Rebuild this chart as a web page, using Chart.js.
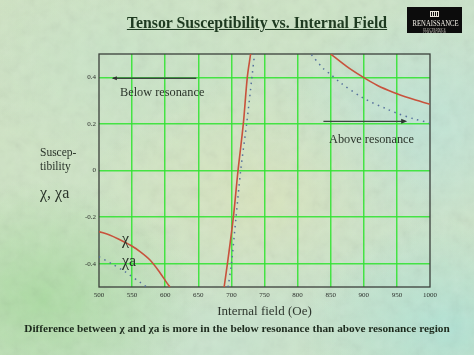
<!DOCTYPE html>
<html>
<head>
<meta charset="utf-8">
<script src="https://cdn.jsdelivr.net/npm/chart.js@4.4.1/dist/chart.umd.min.js"></script>
<style>
  html, body { margin: 0; padding: 0; width: 474px; height: 355px; overflow: hidden; }
  body {
    position: relative;
    font-family: "Liberation Serif", "DejaVu Serif", serif;
    background:
      radial-gradient(ellipse 160px 120px at 40px 300px, rgba(160,215,150,0.75), rgba(160,215,150,0) 100%),
      radial-gradient(ellipse 150px 110px at 450px 330px, rgba(170,225,215,0.8), rgba(170,225,215,0) 100%),
      radial-gradient(ellipse 170px 120px at 260px 200px, rgba(222,228,185,0.7), rgba(222,228,185,0) 100%),
      radial-gradient(ellipse 160px 100px at 120px 60px, rgba(200,228,200,0.8), rgba(200,228,200,0) 100%),
      radial-gradient(ellipse 140px 110px at 420px 120px, rgba(190,228,215,0.8), rgba(190,228,215,0) 100%),
      linear-gradient(135deg, #cfe2c2 0%, #cde4c6 40%, #c8e3cd 70%, #cfe4c4 100%);
  }
  #noise { position: absolute; left: 0; top: 0; width: 474px; height: 355px; opacity: 0.15; pointer-events: none; }
  #wrap { position: absolute; left: 0; top: 0; width: 474px; height: 355px; }
  .txt { position: absolute; color: #2b352b; white-space: nowrap; line-height: 1; }
  #title { left: 0; width: 514px; top: 15px; text-align: center; font-weight: bold; font-size: 15.8px; text-decoration: underline; color: #1e3a20; }
  #logo { position: absolute; left: 407px; top: 7px; width: 55px; height: 26px; background: #0c0c0c; overflow: hidden; }
  #logo .ren { position: absolute; left: 0; width: 55px; top: 11.5px; text-align: center; color: #f2efe6; font-size: 8.4px; transform: scaleX(0.8); transform-origin: 50% 0; font-family: "Liberation Serif", serif; }
  #logo .corp { position: absolute; left: -10px; width: 75px; top: 20.5px; text-align: center; color: #d8d4ca; font-size: 5px; transform: scale(0.6, 0.7); transform-origin: 50% 0; letter-spacing: 0.3px; }
  #logo .icon { position: absolute; left: 23px; top: 4px; width: 9px; height: 6px; border-top: 1.5px solid #e8e4da; border-bottom: 1px solid #e8e4da; box-sizing: border-box;
    background: repeating-linear-gradient(90deg, #e8e4da 0 1px, transparent 1px 2px); }
  #xtitle { left: 99px; width: 331px; top: 304px; text-align: center; font-size: 13px; color: #2e372e; }
  #caption { left: 0; width: 474px; top: 323px; text-align: center; font-weight: bold; font-size: 11.3px; color: #1d2a1d; }
  #ylab1 { left: 40px; top: 147px; font-size: 11.5px; }
  #ylab2 { left: 40px; top: 161px; font-size: 11.5px; }
  #ylab3 { left: 40px; top: 185px; font-size: 16px; }
  #below { left: 120px; top: 86px; font-size: 12.3px; }
  #above { left: 329px; top: 133px; font-size: 12.3px; }
  #chiL { left: 122px; top: 231px; font-size: 16px; }
  #chiaL { left: 122px; top: 253px; font-size: 16px; }
</style>
</head>
<body>
<svg id="noise" xmlns="http://www.w3.org/2000/svg" width="474" height="355">
  <filter id="f"><feTurbulence type="fractalNoise" baseFrequency="0.08" numOctaves="3" seed="4"/><feColorMatrix type="saturate" values="0"/></filter>
  <rect width="474" height="355" filter="url(#f)"/>
</svg>
<div id="wrap"><canvas id="c" width="474" height="355"></canvas></div>
<div class="txt" id="title">Tensor Susceptibility vs. Internal Field</div>
<div id="logo"><div class="icon"></div><div class="ren">RENAISSANCE</div><div class="corp">ELECTRONICS CORPORATION</div></div>
<div class="txt" id="xtitle">Internal field (Oe)</div>
<div class="txt" id="caption">Difference between χ and χa is more in the below resonance than above resonance region</div>
<div class="txt" id="ylab1">Suscep-</div>
<div class="txt" id="ylab2">tibility</div>
<div class="txt" id="ylab3">χ, χa</div>
<div class="txt" id="below">Below resonance</div>
<div class="txt" id="above">Above resonance</div>
<div class="txt" id="chiL">χ</div>
<div class="txt" id="chiaL">χa</div>
<script>
// ---- data ----
const xTicks = [500, 550, 600, 650, 700, 750, 800, 850, 900, 950, 1000];
const yTicks = [-0.4, -0.2, 0, 0.2, 0.4];
const yTickLabels = ["-0.4", "-0.2", "0", "0.2", "0.4"];

// chi (red, solid)
const chiBelowX = [500, 515, 530, 547, 562, 577, 590, 602, 607];
const chiBelowY = [-0.262, -0.276, -0.295, -0.32, -0.348, -0.384, -0.43, -0.48, -0.5];
const chiResX = [689, 694, 703, 710, 718, 724, 729];
const chiResY = [-0.5, -0.4, -0.2, 0, 0.2, 0.4, 0.5];
const chiAboveX = [850, 874, 897, 920, 945, 970, 1000];
const chiAboveY = [0.5, 0.447, 0.404, 0.366, 0.335, 0.31, 0.284];

// chi_a (blue, dotted)
const chiaBelowX = [500, 519, 539, 564, 572];
const chiaBelowY = [-0.37, -0.4, -0.434, -0.484, -0.5];
const chiaResX = [695, 700, 707, 714, 723, 731, 735];
const chiaResY = [-0.5, -0.4, -0.2, 0, 0.2, 0.4, 0.5];
const chiaAboveX = [821, 839, 851, 865, 899, 937, 952, 975, 1000];
const chiaAboveY = [0.497, 0.437, 0.41, 0.376, 0.311, 0.261, 0.244, 0.222, 0.204];

// annotation arrows (data units)
const belowArrow = { x1: 647, x2: 521, y: 0.396 };
const aboveArrow = { x1: 839, x2: 964, y: 0.211 };

const pts = (xs, ys) => xs.map((x, i) => ({ x, y: ys[i] }));
const red = '#c8523c';
const blue = '#56709c';
const redDs = (d) => ({ data: d, borderColor: red, borderWidth: 1.6, pointRadius: 0, showLine: true, tension: 0.3, fill: false });
const blueDs = (d) => ({ data: d, borderColor: blue, borderWidth: 1.5, borderDash: [1.5, 4.5], pointRadius: 0, showLine: true, tension: 0.3, fill: false });

const framePlugin = {
  id: 'frame',
  beforeDatasetsDraw(chart) {
    const { ctx, chartArea: a } = chart;
    ctx.save();
    ctx.strokeStyle = '#3b403b';
    ctx.lineWidth = 1.3;
    ctx.strokeRect(a.left, a.top, a.right - a.left, a.bottom - a.top);
    ctx.restore();
  },
  afterDatasetsDraw(chart) {
    const { ctx } = chart;
    const xs = chart.scales.x, ys = chart.scales.y;
    ctx.save();
    ctx.strokeStyle = '#3d4540';
    ctx.fillStyle = '#2e3530';
    ctx.lineWidth = 1.3;
    let x1 = xs.getPixelForValue(belowArrow.x1), x2 = xs.getPixelForValue(belowArrow.x2), y = ys.getPixelForValue(belowArrow.y);
    ctx.beginPath(); ctx.moveTo(x1, y); ctx.lineTo(x2, y); ctx.stroke();
    ctx.beginPath(); ctx.moveTo(x2 - 1, y); ctx.lineTo(x2 + 4, y - 2); ctx.lineTo(x2 + 4, y + 2); ctx.closePath(); ctx.fill();
    x1 = xs.getPixelForValue(aboveArrow.x1); x2 = xs.getPixelForValue(aboveArrow.x2); y = ys.getPixelForValue(aboveArrow.y);
    ctx.beginPath(); ctx.moveTo(x1, y); ctx.lineTo(x2 - 3, y); ctx.stroke();
    ctx.beginPath(); ctx.moveTo(x2 + 1, y); ctx.lineTo(x2 - 5, y - 2.5); ctx.lineTo(x2 - 5, y + 2.5); ctx.closePath(); ctx.fill();
    ctx.restore();
  }
};

const gridColor = (ctx) => {
  const v = ctx.tick && ctx.tick.value;
  if (ctx.scale.axis === 'x' && (v === 500 || v === 1000)) return 'rgba(0,0,0,0)';
  return 'rgba(50,226,50,0.88)';
};

new Chart(document.getElementById('c'), {
  type: 'scatter',
  data: {
    datasets: [
      redDs(pts(chiBelowX, chiBelowY)),
      redDs(pts(chiResX, chiResY)),
      redDs(pts(chiAboveX, chiAboveY)),
      blueDs(pts(chiaBelowX, chiaBelowY)),
      blueDs(pts(chiaResX, chiaResY)),
      blueDs(pts(chiaAboveX, chiaAboveY)),
    ]
  },
  plugins: [framePlugin],
  options: {
    responsive: false,
    animation: false,
    layout: { padding: { left: 0, right: 44, top: 54, bottom: 0 } },
    plugins: { legend: { display: false }, tooltip: { enabled: false } },
    scales: {
      x: {
        type: 'linear', min: 500, max: 1000,
        afterBuildTicks: (s) => { s.ticks = xTicks.map(v => ({ value: v })); },
        afterFit: (s) => { s.height = 68; },
        border: { display: false },
        grid: { color: gridColor, lineWidth: 1.5, drawTicks: false },
        ticks: { padding: 4, color: '#2c302c', font: { family: 'Liberation Serif', size: 7 }, maxRotation: 0, autoSkip: false, callback: (v) => String(v) }
      },
      y: {
        type: 'linear', min: -0.5, max: 0.5,
        afterBuildTicks: (s) => { s.ticks = yTicks.map(v => ({ value: v })); },
        afterFit: (s) => { s.width = 99; },
        border: { display: false },
        grid: { color: gridColor, lineWidth: 1.5, drawTicks: false },
        ticks: { padding: 3, color: '#2c302c', font: { family: 'Liberation Serif', size: 7 },
          callback: (v) => { const i = yTicks.findIndex(t => Math.abs(t - v) < 1e-9); return i >= 0 ? yTickLabels[i] : ''; } }
      }
    }
  }
});
</script>
</body>
</html>
